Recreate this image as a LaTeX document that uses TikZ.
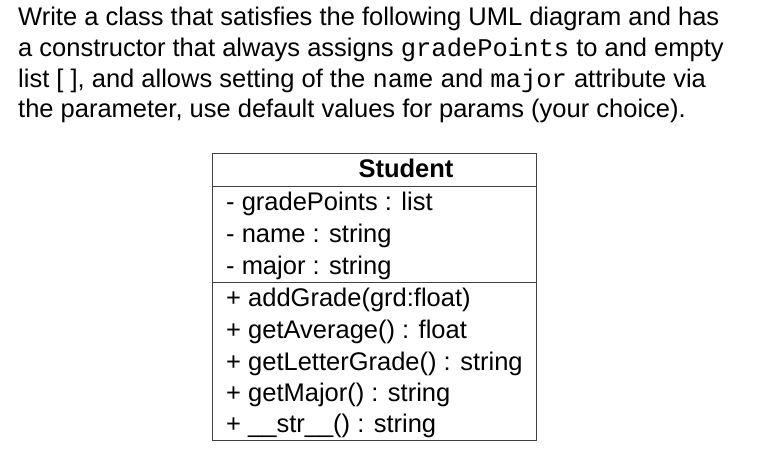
\documentclass[tikz,border=0pt]{standalone}
\usepackage{fontspec}
\setmainfont{Liberation Sans}
\setmonofont{Liberation Mono}
\begin{document}
\begin{tikzpicture}[x=1pt,y=-1pt,
  para/.style={anchor=base west,inner sep=0pt,font=\fontsize{25.5}{30}\selectfont},
  row/.style={anchor=base west,inner sep=0pt,font=\fontsize{25.5}{30}\selectfont},
  boxline/.style={draw=black!75,line width=0.9pt}]
\useasboundingbox (0,0) rectangle (772,456);
\node[para] (l1) at (18,25) {Write a class that satisfies the following UML diagram and has};
\node[para] (l2) at (18,56) {a constructor that always assigns {\ttfamily gradePoints} to and empty};
\node[para] (l3) at (18,87) {list [ ], and allows setting of the {\ttfamily name} and {\ttfamily major} attribute via};
\node[para] (l4) at (18,117) {the parameter, use default values for params (your choice).};
\draw[boxline] (212,153) rectangle (536,440);
\draw[boxline] (212,186) -- (536,186);
\draw[boxline] (212,282) -- (536,282);
\node[row,font=\fontsize{25.5}{30}\selectfont\bfseries,anchor=base] (t) at (406,177) {Student};
\node[row] (a1) at (226,210) {- gradePoints : list};
\node[row] (a2) at (226,242) {- name : string};
\node[row] (a3) at (226,274) {- major : string};
\node[row] (m1) at (226,306) {+ addGrade(grd:float)};
\node[row] (m2) at (226,338) {+ getAverage() : float};
\node[row] (m3) at (226,370) {+ getLetterGrade() : string};
\node[row] (m4) at (226,401) {+ getMajor() : string};
\node[row] (m5) at (226,432) {+ \_\_str\_\_() : string};
\end{tikzpicture}
\end{document}
